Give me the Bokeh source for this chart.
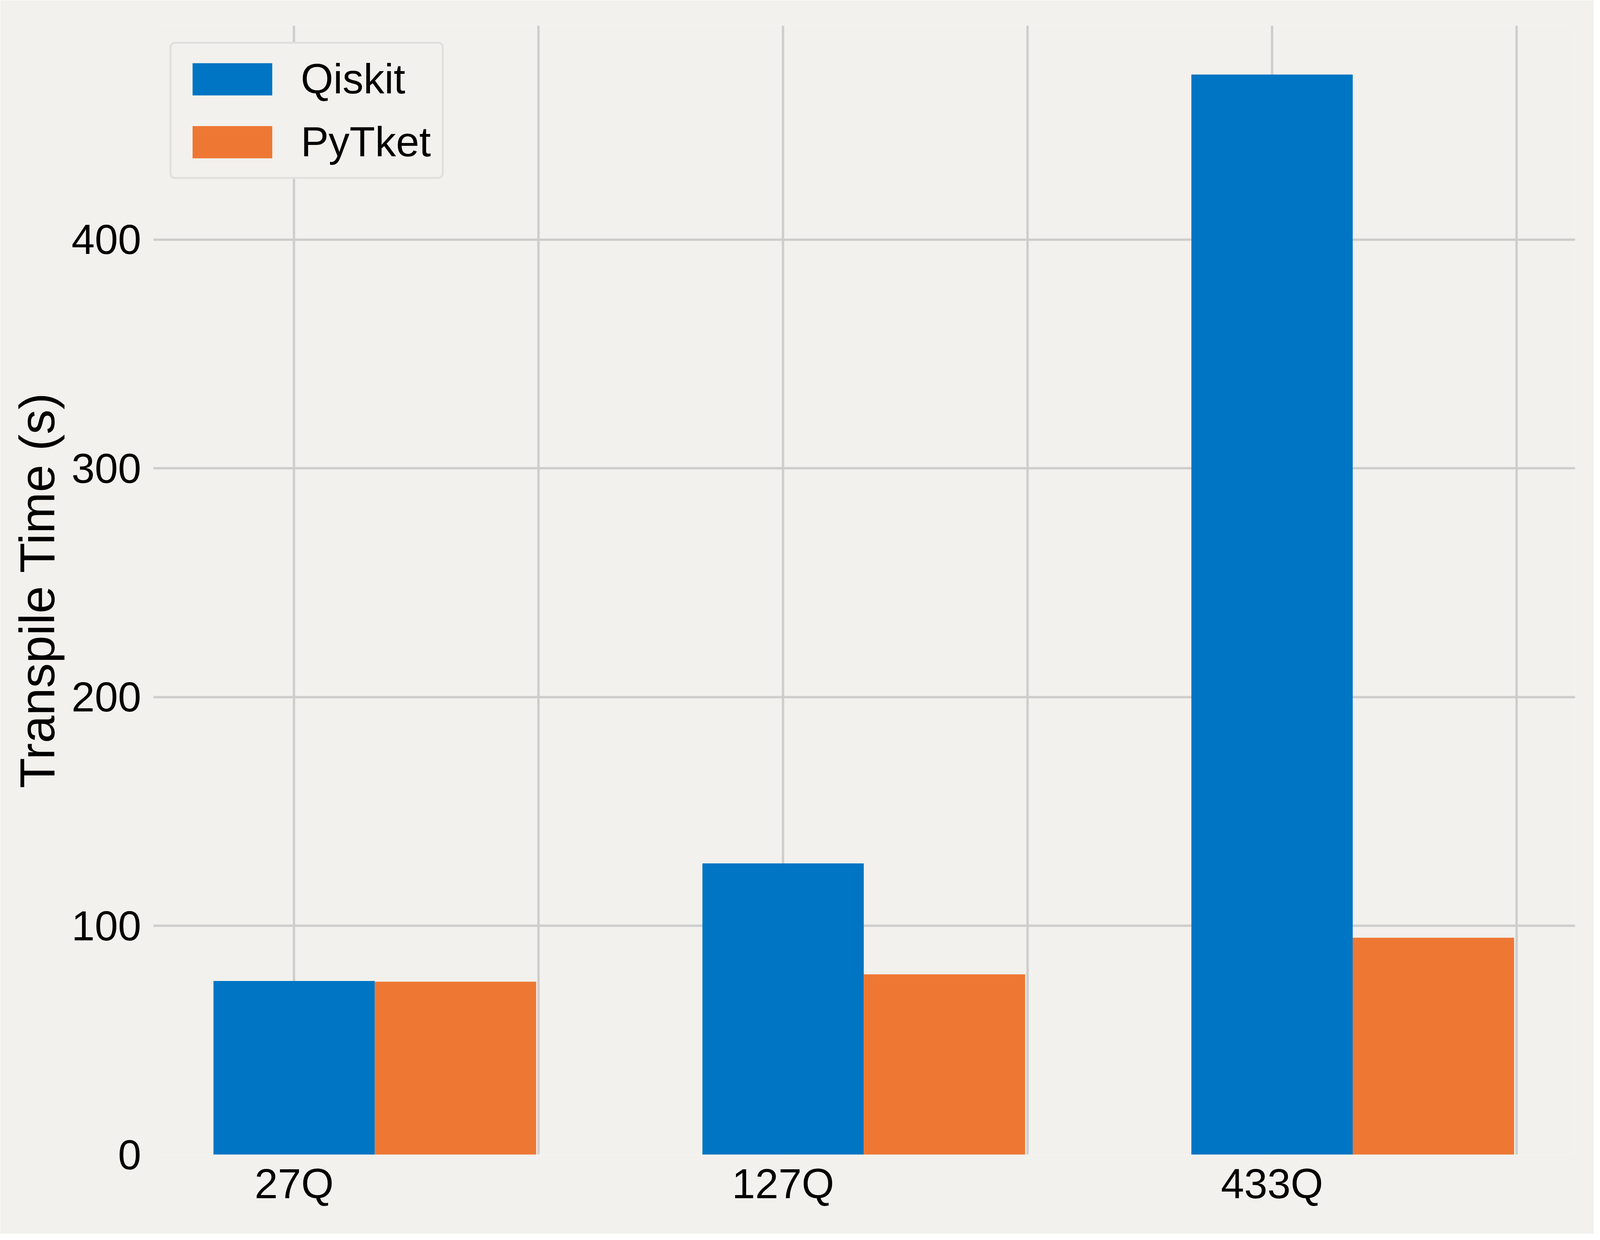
from bokeh.plotting import figure
from bokeh.models import FixedTicker, Legend, LegendItem, Range1d
from bokeh.embed import file_html
from bokeh.resources import INLINE

# ---- data ----
categories = ["27Q", "127Q", "433Q"]
positions = [0, 1, 2]
qiskit = [75.9, 127.3, 472.1]
pytket = [75.6, 78.8, 94.8]
series_names = ["Qiskit", "PyTket"]
y_ticks = [0, 100, 200, 300, 400]

bar_width = 0.33
BG = "#f2f1ed"
BLUE = "#0075c3"
ORANGE = "#ee7734"
GRID = "#cdcdcd"
FONT = "Liberation Sans"

p = figure(width=4080, height=3158, output_backend="svg", toolbar_location=None,
           x_range=Range1d(-0.288, 2.620), y_range=Range1d(0, 493.5),
           min_border_left=392, min_border_right=48, min_border_top=65,
           min_border_bottom=203)
p.background_fill_color = BG
p.border_fill_color = BG
p.outline_line_color = None

r1 = p.vbar(x=positions, top=qiskit, width=bar_width, bottom=0,
            fill_color=BLUE, line_color=None)
r2 = p.vbar(x=[v + bar_width for v in positions], top=pytket, width=bar_width,
            bottom=0, fill_color=ORANGE, line_color=None)

# axes
p.xaxis.ticker = FixedTicker(ticks=positions, minor_ticks=[v + 0.5 for v in positions])
p.xaxis.major_label_overrides = {pos: c for pos, c in zip(positions, categories)}
p.yaxis.ticker = FixedTicker(ticks=y_ticks, minor_ticks=[])
for ax in (p.xaxis[0], p.yaxis[0]):
    ax.axis_line_color = None
    ax.major_tick_line_color = None
    ax.minor_tick_line_color = None
    ax.major_label_text_font = FONT
    ax.major_label_text_font_size = "107px"
    ax.major_label_text_color = "#000000"
p.xaxis.major_label_standoff = 8
p.yaxis.major_label_standoff = 25
p.yaxis.axis_label = "Transpile Time (s)"
p.yaxis.axis_label_text_font = FONT
p.yaxis.axis_label_text_font_size = "127px"
p.yaxis.axis_label_text_font_style = "normal"
p.yaxis.axis_label_text_color = "#000000"
p.yaxis.axis_label_standoff = 14

# grid
p.xgrid.grid_line_color = GRID
p.xgrid.grid_line_width = 6
p.xgrid.minor_grid_line_color = GRID
p.xgrid.minor_grid_line_width = 6
p.ygrid.grid_line_color = GRID
p.ygrid.grid_line_width = 6

# legend
legend = Legend(items=[LegendItem(label=series_names[0], renderers=[r1]),
                       LegendItem(label=series_names[1], renderers=[r2])],
                location="top_left")
legend.margin = 42
legend.padding = 28
legend.glyph_width = 255
legend.glyph_height = 103
legend.label_standoff = 48
legend.spacing = 37
legend.label_text_font = FONT
legend.label_text_font_size = "107px"
legend.label_text_color = "#000000"
legend.background_fill_color = BG
legend.background_fill_alpha = 1.0
legend.border_line_color = "#d0d0d0"
legend.border_line_width = 5
if "border_radius" in Legend.properties():
    legend.border_radius = 14
p.add_layout(legend)

open("out.html", "w").write(file_html(p, INLINE))
